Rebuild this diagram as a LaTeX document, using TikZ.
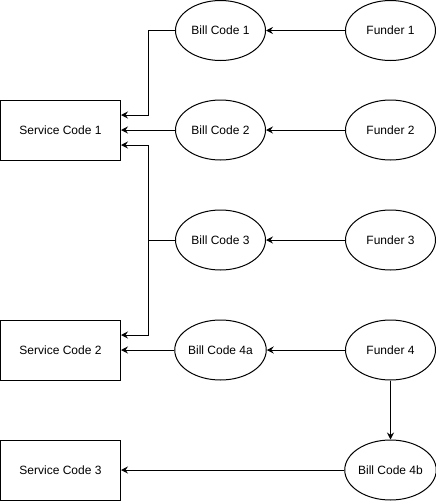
\documentclass[tikz,border=0pt]{standalone}
\usepackage{fontspec}
\setmainfont{Liberation Sans}
\usetikzlibrary{shapes.geometric,arrows.meta}
\begin{document}
\begin{tikzpicture}[x=1pt,y=-1pt,
  every node/.style={font=\fontsize{12}{14}\selectfont, line width=1pt, draw=black, inner sep=0pt},
  svc/.style={rectangle, minimum width=120pt, minimum height=60pt},
  ell/.style={ellipse, minimum width=90pt, minimum height=60pt},
  arr/.style={line width=1pt, -{Stealth[length=7pt,width=7pt,inset=2.5pt]}},
  ln/.style={line width=1pt}]
\useasboundingbox (0,0) rectangle (436,501);
\node[svc] (s1) at (60.5,130) {Service Code 1};
\node[svc] (s2) at (60.5,350) {Service Code 2};
\node[svc] (s3) at (60.5,470) {Service Code 3};
\node[ell] (b1) at (220.5,30.5) {Bill Code 1};
\node[ell] (b2) at (220.5,130) {Bill Code 2};
\node[ell] (b3) at (220.5,240) {Bill Code 3};
\node[ell] (b4a) at (220.5,350) {Bill Code 4a};
\node[ell] (f1) at (390.5,30.5) {Funder 1};
\node[ell] (f2) at (390.5,130) {Funder 2};
\node[ell] (f3) at (390.5,240) {Funder 3};
\node[ell] (f4) at (390.5,350) {Funder 4};
\node[ell] (b4b) at (390.5,470) {Bill Code 4b};
\draw[arr] (f1.west) -- (b1.east);
\draw[arr] (f2.west) -- (b2.east);
\draw[arr] (f3.west) -- (b3.east);
\draw[arr] (f4.west) -- (b4a.east);
\draw[arr] (f4.south) -- (b4b.north);
\draw[arr] (b2.west) -- (s1.east);
\draw[arr] (b4a.west) -- (s2.east);
\draw[arr] (b4b.west) -- (s3.east);
\draw[arr] (b1.west) -- ++(-27,0) |- ([yshift=15pt]s1.east);
\draw[arr] (b3.west) -- ++(-27,0) |- ([yshift=-15pt]s1.east);
\draw[arr] (b3.west) -- ++(-27,0) |- ([yshift=15pt]s2.east);
\end{tikzpicture}
\end{document}
